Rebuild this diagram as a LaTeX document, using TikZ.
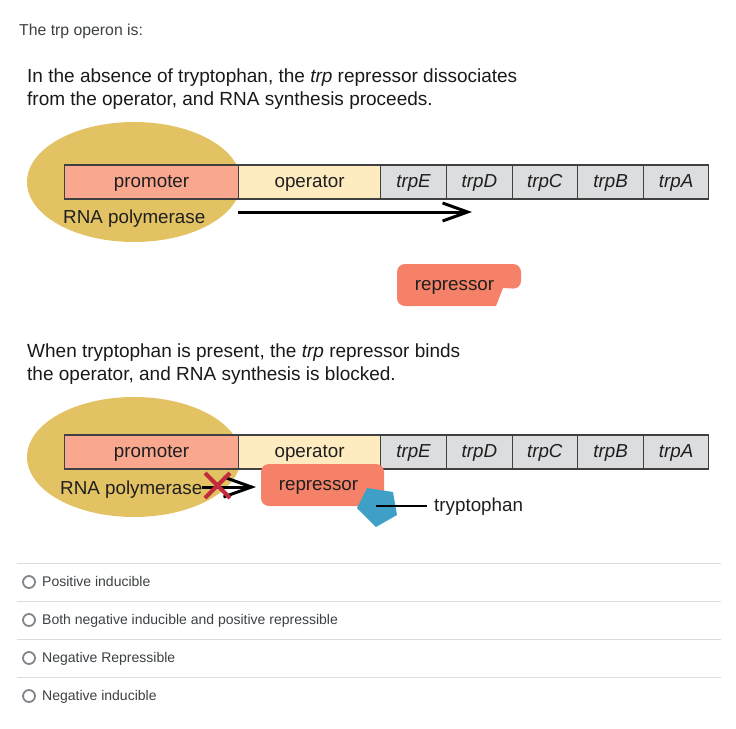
\documentclass[tikz,border=0pt]{standalone}
\usepackage{fontspec}
\setmainfont{Liberation Sans}
\usetikzlibrary{%
  arrows.meta,%
  calc%
}
\definecolor{polcol}{HTML}{E3C264}
\definecolor{promcol}{HTML}{F9A88F}
\definecolor{opercol}{HTML}{FEEBC0}
\definecolor{genecol}{HTML}{DCDDDF}
\definecolor{repcol}{HTML}{F58268}
\definecolor{trpcol}{HTML}{3F9FC6}
\definecolor{uicol}{HTML}{3C4043}
\definecolor{rulecol}{HTML}{DADCE0}
\definecolor{ringcol}{HTML}{80868B}
\definecolor{crosscol}{HTML}{C22C3A}
\tikzset{>=latex, diagtext/.style = {font=\fontsize{18.8}{23}\selectfont, text=black!88, inner sep=0pt},%
	geneseg/.style = {draw=black!75, line width=1.2pt, minimum height=34pt, inner sep=0pt, anchor=west, text height=14.6pt, text depth=4pt, font=\fontsize{18.8}{23}\selectfont, text=black!88},%
	polblob/.style = {fill=polcol, draw=none},%
	caption/.style = {font=\fontsize{19}{23}\selectfont, align=left, anchor=north west, inner sep=0pt, text=black!90},%
	question/.style = {font=\fontsize{14}{18}\selectfont, text=uicol, anchor=west, inner sep=0pt, text height=14.4pt, text depth=3pt},%
	radio/.style = {circle, draw=ringcol, line width=1.8pt, minimum size=12pt, inner sep=0pt},%
	barb/.style = {line width=3pt, -{Straight Barb[length=25pt,width=18pt,line width=3pt]}},%
	barbshort/.style = {line width=3pt, -{Straight Barb[length=28pt,width=20pt,line width=3pt]}}}

\begin{document}
\begin{tikzpicture}[x=1pt,y=-1pt]
    \useasboundingbox (0,0) rectangle (736,728);
    \node[question,font=\fontsize{15.8}{20}\selectfont] (title) at (19,29.5) {The trp operon is:};
    \node[caption] (capA) at (27,69) {In the absence of tryptophan, the \textit{trp} repressor dissociates\\from the operator, and RNA synthesis proceeds.};
    \node[caption] (capB) at (27,344) {When tryptophan is present, the \textit{trp} repressor binds\\the operator, and RNA synthesis is blocked.};
    % the two operon rows
    \foreach \rowy/\bloby/\rowname in {182/182/A,452/457/B} {
      \fill[polblob] (134,\bloby) ellipse (107 and 60);
      \node[geneseg,fill=promcol,minimum width=174pt] (prom\rowname) at (64,\rowy) {promoter};
      \node[geneseg,fill=opercol,minimum width=142pt] (oper\rowname) at (238,\rowy) {operator};
      \node[geneseg,fill=genecol,minimum width=66pt] (trpE\rowname) at (380,\rowy) {\textit{trpE}};
      \node[geneseg,fill=genecol,minimum width=65.5pt] (trpD\rowname) at (446,\rowy) {\textit{trpD}};
      \node[geneseg,fill=genecol,minimum width=65.5pt] (trpC\rowname) at (511.5,\rowy) {\textit{trpC}};
      \node[geneseg,fill=genecol,minimum width=66pt] (trpB\rowname) at (577,\rowy) {\textit{trpB}};
      \node[geneseg,fill=genecol,minimum width=65pt] (trpA\rowname) at (643,\rowy) {\textit{trpA}};
    }
    % free repressor
    \fill[repcol,rounded corners=8pt] (397,264) -- (521,264) -- (521,289) [sharp corners] -- (503,288) -- (496,306) [rounded corners=8pt] -- (397,306) -- cycle;
    \node[diagtext] (repA) at (454.5,287) {repressor};
    \node[diagtext,anchor=west] (polA) at (63,218.5) {RNA polymerase};
    \coordinate (startA) at (238,212);
    \coordinate (endA) at (472,212);
    \draw[barb] (startA) -- (endA);
    % blocked row
    \node[diagtext,anchor=west] (polB) at (60,490) {RNA polymerase};
    \coordinate (startB) at (202,487);
    \coordinate (endB) at (256,487);
    \draw[barbshort] (startB) -- (endB);
    \node[fill=repcol,rounded corners=8pt,minimum width=123pt,minimum height=42pt,inner sep=0pt] (repbox) at (322.5,485) {};
    \node[diagtext] (repB) at (318.5,487) {repressor};
    \draw[line width=4pt,draw=crosscol] (205,473) -- (230,498) (205,498) -- (230,473);
    \fill[trpcol] (367,488) -- (393,492) -- (397,515) -- (376,527) -- (357,508) -- cycle;
    \coordinate (trpmid) at (376,506);
    \node[diagtext,anchor=west] (trplabel) at (434,507) {tryptophan};
    \draw[line width=2pt,shorten >=7pt] (trpmid) -- (trpmid -| trplabel.west);
    % answers
    \foreach \qy/\qname/\qtext in {581/a/Positive inducible,619/b/Both negative inducible and positive repressible,657/c/Negative Repressible,695/d/Negative inducible} {
      \draw[rulecol,line width=1pt] (17,\qy-18) -- (721,\qy-18);
      \node[radio] (radio\qname) at (29,\qy+1) {};
      \node[question] (ans\qname) at (42,\qy) {\qtext};
    }
\end{tikzpicture}
\end{document}
